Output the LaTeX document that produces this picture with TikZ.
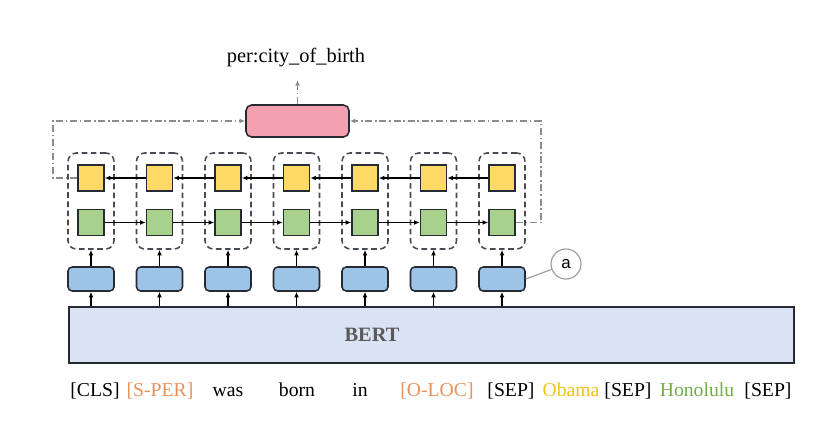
\documentclass[tikz,border=0pt]{standalone}
\usepackage{fontspec}
\setmainfont{Liberation Serif}
\newfontfamily\circfont{Liberation Sans}
\usepackage{xcolor}
\usetikzlibrary{arrows.meta,positioning,calc}
\definecolor{cellline}{HTML}{262B33}
\definecolor{fwdyellow}{HTML}{FFD966}
\definecolor{bwdgreen}{HTML}{A9D18E}
\definecolor{embblue}{HTML}{9DC3E6}
\definecolor{bertfill}{HTML}{DAE3F3}
\definecolor{outpink}{HTML}{F4A0B0}
\definecolor{tagorange}{HTML}{E8925A}
\definecolor{subjyellow}{HTML}{F2C218}
\definecolor{objgreen}{HTML}{70AD47}

\begin{document}
\begin{tikzpicture}[
        x=0.025cm, y=-0.025cm,
        cell/.style={
          draw=cellline,
          line width=1.1pt,
          minimum width=0.65cm,
          minimum height=0.65cm,
          inner sep=0pt
        },
        embed/.style={
          draw=cellline,
          line width=1.1pt,
          rounded corners=3pt,
          fill=embblue,
          minimum width=1.15cm,
          minimum height=0.6cm,
          inner sep=0pt
        },
        group/.style={
          draw=cellline!85,
          dash pattern=on 4pt off 2.5pt,
          line width=1.1pt,
          rounded corners=6pt,
          minimum width=1.15cm,
          minimum height=2.4cm,
          inner sep=0pt
        },
        word/.style={
          anchor=base,
          font=\fontsize{14}{16}\selectfont,
          inner sep=0pt
        },
        link/.style={
          -{Latex[length=1.4mm,width=1.2mm]},
          line width=0.8pt
        },
        loopline/.style={
          dash pattern=on 5pt off 2pt on 1pt off 2pt,
          draw=gray!90,
          line width=0.8pt
        }
      ]

      \useasboundingbox (0,0) rectangle (826,430);

      % output layer
      \node[font=\fontsize{14.5}{16}\selectfont] (rel) at (296,58) {per:city\_of\_birth};
      \node[draw=cellline, line width=1.1pt, rounded corners=4pt, fill=outpink,
            minimum width=2.575cm, minimum height=0.8cm] (pool) at (297.5,121) {};
      \coordinate (relin) at (297.5,80);
      \draw[loopline, -{Latex[length=1.4mm,width=1.2mm]}] (pool) -- (relin);

      % BERT encoder
      \node[draw=cellline, line width=1.1pt, fill=bertfill,
            minimum width=18.125cm, minimum height=1.4cm] (bert) at (431.5,335) {};
      \node[font=\fontsize{14.5}{16}\selectfont\bfseries, text=black!65] (bertname) at (372,335) {BERT};

      % columns
      \foreach \i in {0,...,6} {
        \pgfmathsetmacro{\cx}{91+68.5*\i}
        \node[group] (grp\i) at (\cx,201) {};
        \node[cell, fill=fwdyellow] (fw\i) at (\cx,178) {};
        \node[cell, fill=bwdgreen] (bw\i) at (\cx,222.5) {};
        \node[embed] (emb\i) at (\cx,279) {};
        \draw[link] (emb\i.north) -- (grp\i.south);
        \draw[link] (bert.north -| emb\i) -- (emb\i.south);
      }

      % recurrent links
      \foreach \i [evaluate=\i as \j using int(\i+1)] in {0,...,5} {
        \draw[link] (fw\j.west) -- (fw\i.east);
        \draw[link] (bw\i.east) -- (bw\j.west);
      }

      % final states to the pooling box
      \coordinate (loopleft) at (53,121);
      \coordinate (loopright) at (541,121);
      \draw[loopline, -{Latex[length=1.4mm,width=1.2mm]}] (fw0.west) -| (loopleft) -- (pool.west);
      \draw[loopline, -{Latex[length=1.4mm,width=1.2mm]}] (bw6.east) -| (loopright) -- (pool.east);

      % callout
      \node[draw=gray!80, circle, line width=0.8pt, minimum size=0.75cm, inner sep=0pt,
            font=\circfont\fontsize{12}{14}\selectfont] (mark) at (566,264) {a};
      \draw[gray!80, line width=0.8pt] (emb6.east) -- (mark);

      % input tokens
      \node[word] (t0) at (95,396) {[CLS]};
      \node[word, text=tagorange] (t1) at (160,396) {[S-PER]};
      \node[word] (t2) at (228,396) {was};
      \node[word] (t3) at (297,396) {born};
      \node[word] (t4) at (360,396) {in};
      \node[word, text=tagorange] (t5) at (437,396) {[O-LOC]};
      \node[word] (t6) at (511,396) {[SEP]};
      \node[word, text=subjyellow] (t7) at (571,396) {Obama};
      \node[word] (t8) at (628,396) {[SEP]};
      \node[word, text=objgreen] (t9) at (697,396) {Honolulu};
      \node[word] (t10) at (768,396) {[SEP]};

      \end{tikzpicture}
\end{document}
